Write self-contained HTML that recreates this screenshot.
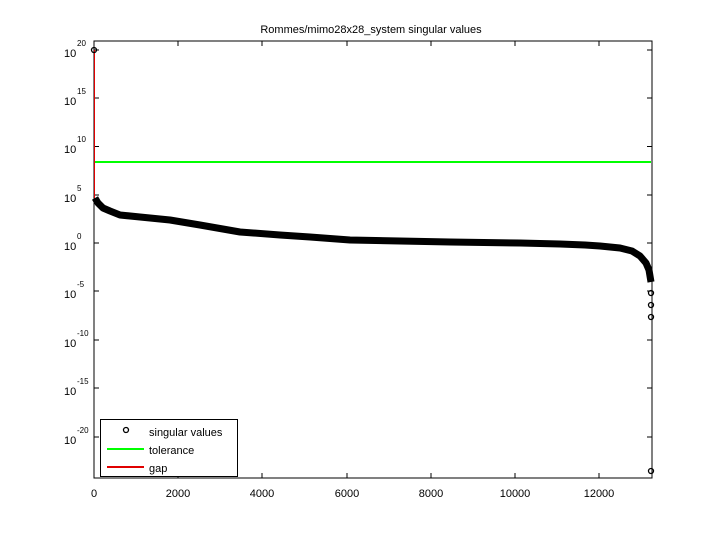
<!DOCTYPE html>
<html><head><meta charset="utf-8"><style>body{margin:0;background:#fff}svg{display:block}text{font-family:"Liberation Sans",sans-serif;font-size:11px;fill:#000}.e{font-size:8px}</style></head><body>
<svg width="720" height="540" viewBox="0 0 720 540">
<rect width="720" height="540" fill="#fff"/>
<text x="371" y="33" text-anchor="middle">Rommes/mimo28x28_system singular values</text>
<rect x="94" y="41" width="558" height="437" fill="none" stroke="#000" stroke-width="1"/>
<g stroke="#000" stroke-width="1">
<path d="M94 50h5M94 98h5M94 146.5h5M94 195h5M94 243h5M94 291h5M94 340h5M94 388h5M94 437h5"/>
<path d="M652 50h-5M652 98h-5M652 146.5h-5M652 195h-5M652 243h-5M652 291h-5M652 340h-5M652 388h-5M652 437h-5"/>
<path d="M94 478v-5M178 478v-5M262 478v-5M347 478v-5M431 478v-5M515 478v-5M599 478v-5"/>
<path d="M94 41v5M178 41v5M262 41v5M347 41v5M431 41v5M515 41v5M599 41v5"/>
</g>
<text x="64" y="57">10</text><text class="e" x="77" y="46">20</text>
<text x="64" y="105">10</text><text class="e" x="77" y="94">15</text>
<text x="64" y="153">10</text><text class="e" x="77" y="142">10</text>
<text x="64" y="202">10</text><text class="e" x="77" y="191">5</text>
<text x="64" y="250">10</text><text class="e" x="77" y="239">0</text>
<text x="64" y="298">10</text><text class="e" x="77" y="287">-5</text>
<text x="64" y="347">10</text><text class="e" x="77" y="336">-10</text>
<text x="64" y="395">10</text><text class="e" x="77" y="384">-15</text>
<text x="64" y="444">10</text><text class="e" x="77" y="433">-20</text>
<g text-anchor="middle">
<text x="94" y="497">0</text><text x="178" y="497">2000</text><text x="262" y="497">4000</text><text x="347" y="497">6000</text><text x="431" y="497">8000</text><text x="515" y="497">10000</text><text x="599" y="497">12000</text>
</g>
<line x1="95" y1="162" x2="651" y2="162" stroke="#00ff00" stroke-width="2"/>
<line x1="94.5" y1="50" x2="94.5" y2="198" stroke="#e00000" stroke-width="1"/>
<polyline fill="none" stroke="#000" stroke-width="7" stroke-linejoin="round" points="95,198 98,203 103,208 110,211 120,215 140,217 170,220 200,225 240,232 280,235 310,237 350,240 400,241 450,242 520,243 560,244 585,245 600,246 620,248 632,251 640,256 646,263 649,270 651,282"/>
<g fill="none" stroke="#000" stroke-width="1.3">
<circle cx="94" cy="50" r="2.5"/>
<circle cx="651" cy="293" r="2.5"/><circle cx="651" cy="305" r="2.5"/><circle cx="651" cy="317" r="2.5"/><circle cx="651" cy="471" r="2.5"/>
</g>
<rect x="100.5" y="419.5" width="137" height="57" fill="#fff" stroke="#000"/>
<circle cx="126" cy="430" r="2.5" fill="none" stroke="#000" stroke-width="1.3"/>
<text x="149" y="436">singular values</text>
<line x1="107" y1="449" x2="144" y2="449" stroke="#00ff00" stroke-width="2"/>
<text x="149" y="454">tolerance</text>
<line x1="107" y1="467" x2="144" y2="467" stroke="#e00000" stroke-width="2"/>
<text x="149" y="472">gap</text>
</svg>
</body></html>
